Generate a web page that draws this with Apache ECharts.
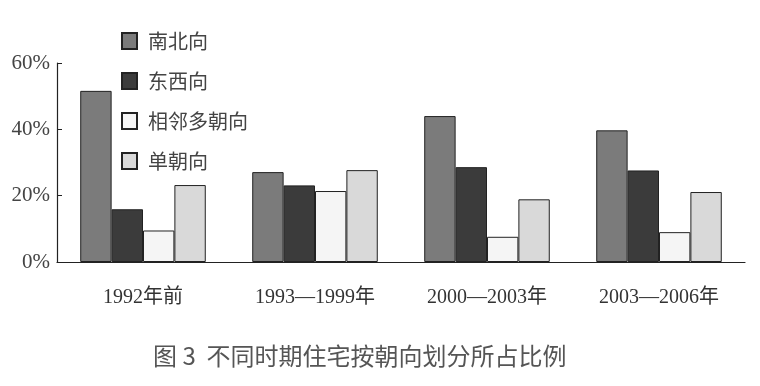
<!DOCTYPE html>
<html><head><meta charset="utf-8">
<script src="https://cdn.jsdelivr.net/npm/echarts@6/dist/echarts.min.js"></script>
<style>html,body{margin:0;padding:0;background:#fff}#c{width:760px;height:386px}</style>
</head><body><div id="c"></div>
<script>
const categories = ['1992年前', '1993—1999年', '2000—2003年', '2003—2006年'];
const seriesNames = ['南北向', '东西向', '相邻多朝向', '单朝向'];
const nanbei = [51.6, 27.1, 44.0, 39.7];
const dongxi = [15.9, 23.1, 28.6, 27.6];
const xianglin = [9.5, 21.4, 7.6, 9.0];
const danchao = [23.2, 27.7, 18.9, 21.1];
const yTicks = [0, 20, 40, 60];
const titleText = '图 3  不同时期住宅按朝向划分所占比例';

const colors = ['#7b7b7b', '#3b3b3b', '#f5f5f5', '#d9d9d9'];
const values = [nanbei, dongxi, xianglin, danchao];
const chart = echarts.init(document.getElementById('c'));
chart.setOption({
  animation: false,
  backgroundColor: '#fff',
  grid: { left: 57, right: 15, top: 63, bottom: 124 },
  legend: {
    orient: 'vertical', left: 116, top: 26, itemGap: 20,
    itemWidth: 15, itemHeight: 16, icon: 'rect',
    data: seriesNames,
    textStyle: { fontFamily: 'Noto Sans CJK SC', fontSize: 20, color: '#444', padding: [0, 0, 0, 6] }
  },
  xAxis: {
    type: 'category', data: categories,
    axisLine: { lineStyle: { color: '#222', width: 1.2 } },
    axisTick: { inside: true, length: 7, lineStyle: { color: '#222' } },
    axisLabel: { margin: 26, fontFamily: 'Liberation Serif, Noto Sans CJK SC', fontSize: 20, color: '#333' }
  },
  yAxis: {
    type: 'value', min: 0, max: 60, interval: 20,
    axisLine: { show: true, lineStyle: { color: '#222', width: 1.2 } },
    axisTick: { show: true, inside: true, length: 5, lineStyle: { color: '#222' } },
    splitLine: { show: false },
    axisLabel: { formatter: v => yTicks.includes(v) ? v + '%' : '', margin: 7, fontFamily: 'Liberation Serif', fontSize: 21, color: '#444' }
  },
  title: {
    text: titleText, left: 148, top: 339,
    textStyle: { fontFamily: 'Noto Sans CJK SC', fontSize: 24, fontWeight: 'normal', color: '#555' }
  },
  series: seriesNames.map((n, i) => ({
    name: n, type: 'bar', data: values[i],
    barGap: '0%', barCategoryGap: '27%',
    itemStyle: { color: colors[i], borderColor: '#222', borderWidth: 1 }
  }))
});
</script></body></html>
